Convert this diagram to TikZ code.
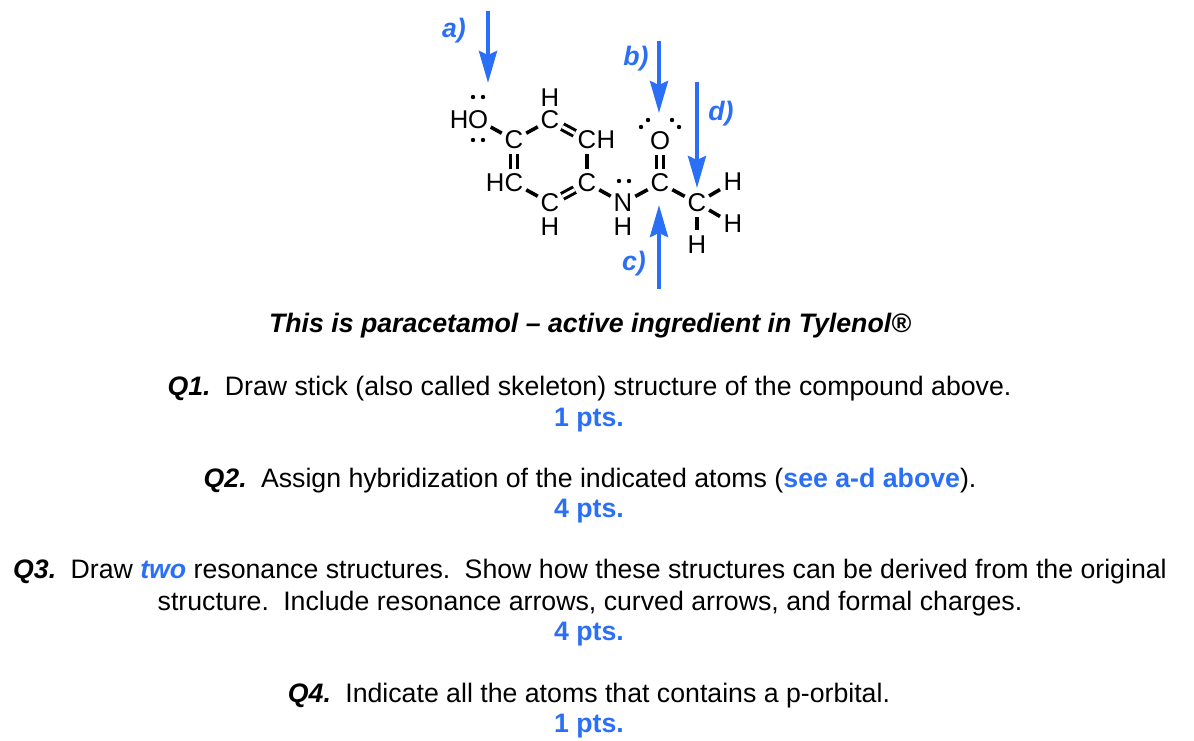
\documentclass[tikz,border=0pt]{standalone}
\usepackage{fontspec}
\setmainfont{Liberation Sans}
\usetikzlibrary{arrows.meta}
\definecolor{qblue}{HTML}{2A6FF6}
\newcommand{\bluebf}[1]{\textcolor{qblue}{\textbf{#1}}}
\newcommand{\bi}[1]{\textbf{\textit{#1}}}
\tikzset{
  x=1pt,y=-1pt,
  every node/.style={inner sep=0pt,outer sep=0pt},
  atom/.style={circle,minimum size=26pt,font=\fontsize{25.7}{28}\selectfont},
  hatom/.style={circle,minimum size=28pt,font=\fontsize{25.7}{28}\selectfont},
  glyph/.style={font=\fontsize{25.7}{28}\selectfont},
  bond/.style={line width=3.6pt,black,shorten >=1pt,shorten <=1pt},
  dbond/.style={line width=3pt,black,double=white,double distance=3.2pt,shorten >=1pt,shorten <=1pt},
  pointer/.style={line width=4pt,qblue,-{Stealth[length=32pt,width=18pt,inset=4pt]}},
  tag/.style={font=\fontsize{26.7}{30}\selectfont\bfseries\itshape,text=qblue},
  line/.style={font=\fontsize{26.7}{30}\selectfont,anchor=base},
  pair/.style={fill=black}
}
\begin{document}
\begin{tikzpicture}
\useasboundingbox (0,0) rectangle (1194,740);
% atoms
\node[atom] (o1) at (478,120) {O};
\node[glyph,anchor=east] (ho) at (o1.center) [xshift=-9.5pt] {H};
\node[atom] (c1) at (514,140) {C};
\node[atom] (c2) at (550,120) {C};
\node[glyph] (h2) at (550,97.5) {H};
\node[atom] (c3) at (587,140) {C};
\node[glyph,anchor=west] (h3) at (c3.center) [xshift=9.5pt] {H};
\node[atom] (c4) at (587,183) {C};
\node[atom] (c5) at (550,203) {C};
\node[glyph] (h5) at (550,227) {H};
\node[atom] (c6) at (514,183) {C};
\node[glyph,anchor=east] (h6) at (c6.center) [xshift=-9.5pt] {H};
\node[atom] (n) at (623,203) {N};
\node[glyph] (hn) at (623,226.5) {H};
\node[atom] (c7) at (660,183) {C};
\node[atom] (o2) at (660,141) {O};
\node[atom] (c8) at (697,203) {C};
\node[hatom] (h8a) at (733,182) {H};
\node[hatom] (h8b) at (733,224) {H};
\node[hatom] (h8c) at (697,245) {H};
% bonds
\draw[bond] (o1) -- (c1);
\draw[bond] (c1) -- (c2);
\draw[dbond] (c2) -- (c3);
\draw[bond] (c3) -- (c4);
\draw[dbond] (c4) -- (c5);
\draw[bond] (c5) -- (c6);
\draw[dbond] (c6) -- (c1);
\draw[bond] (c4) -- (n);
\draw[bond] (n) -- (c7);
\draw[dbond] (c7) -- (o2);
\draw[bond] (c7) -- (c8);
\draw[bond] (c8) -- (h8a);
\draw[bond] (c8) -- (h8b);
\draw[bond] (c8) -- (h8c);
% lone pairs
\foreach \px/\py in {473/97,483/97,473/140,483/140,641/127,648/120,672/120,679/127,619/181,629/181}
  \fill[pair] (\px,\py) circle (2.2pt);
% pointers
\coordinate (a0) at (488,11);
\coordinate (a1) at (488,83);
\coordinate (b0) at (659,41);
\coordinate (b1) at (659,113);
\coordinate (c0) at (659,289);
\coordinate (c1e) at (659,205);
\coordinate (d0) at (697,82);
\coordinate (d1) at (697,188);
\draw[pointer] (a0) -- (a1);
\draw[pointer] (b0) -- (b1);
\draw[pointer] (c0) -- (c1e);
\draw[pointer] (d0) -- (d1);
\node[tag] (la) at (454,31) {a)};
\node[tag] (lb) at (636,59) {b)};
\node[tag] (lc) at (634,264) {c)};
\node[tag] (ld) at (721,114) {d)};
% text
\node[line] (t0) at (590,332) {\bi{This is paracetamol – active ingredient in Tylenol®}};
\node[line] (t1) at (589.5,395) {\bi{Q1.}\, Draw stick (also called skeleton) structure of the compound above.};
\node[line] (p1) at (589,426) {\bluebf{1 pts.}};
\node[line] (t2) at (590,487) {\bi{Q2.}\, Assign hybridization of the indicated atoms (\bluebf{see a-d above}).};
\node[line] (p2) at (589,517) {\bluebf{4 pts.}};
\node[line] (t3) at (590,578) {\bi{Q3.}\, Draw \textcolor{qblue}{\bi{two}} resonance structures.\, Show how these structures can be derived from the original};
\node[line] (t3b) at (590,610) {structure.\, Include resonance arrows, curved arrows, and formal charges.};
\node[line] (p3) at (589,640) {\bluebf{4 pts.}};
\node[line] (t4) at (589,702) {\bi{Q4.}\, Indicate all the atoms that contains a p-orbital.};
\node[line] (p4) at (589,732) {\bluebf{1 pts.}};
\end{tikzpicture}
\end{document}
